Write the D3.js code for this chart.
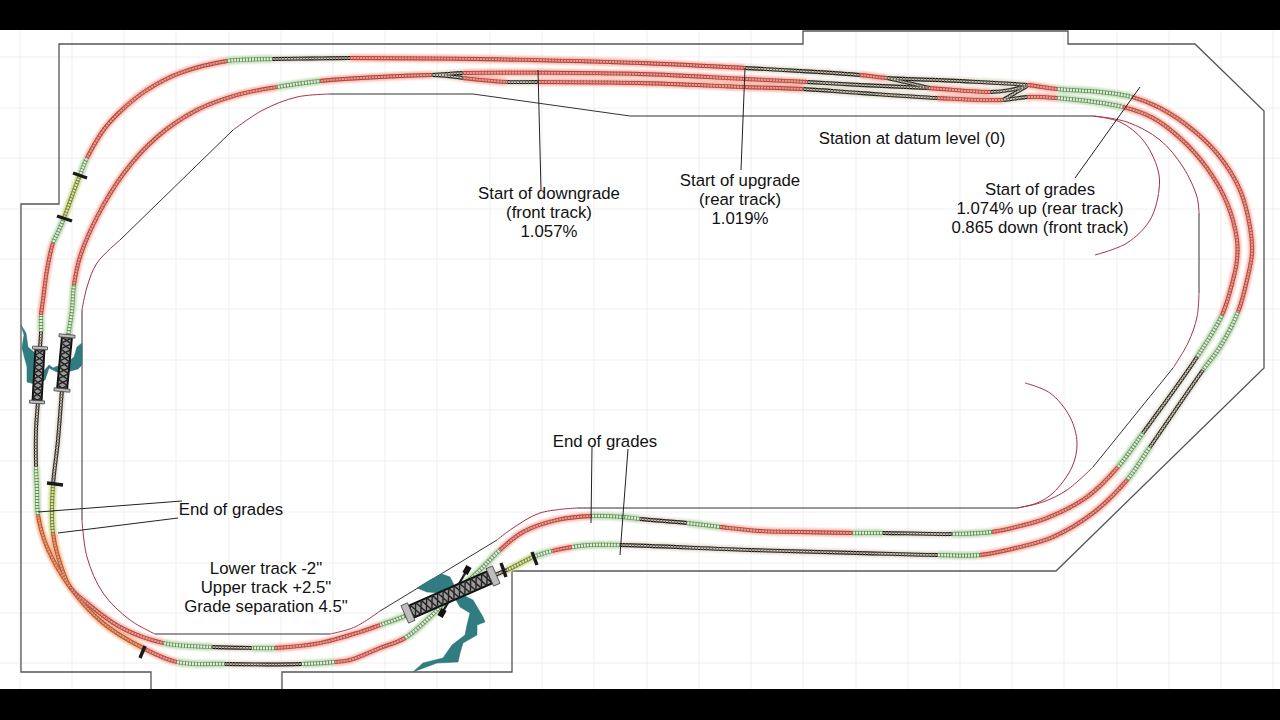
<!DOCTYPE html>
<html>
<head>
<meta charset="utf-8">
<style>
  html, body { margin: 0; padding: 0; background: #fff; }
  svg { display: block; }
  text { font-family: "Liberation Sans", Arial, sans-serif; font-size: 16.8px; fill: #111; text-anchor: middle; }
</style>
<script src="https://cdnjs.cloudflare.com/ajax/libs/d3/7.8.5/d3.min.js"></script>
</head>
<body>
<div id="plan"></div>
<script>
// All coordinates are plan units.

var gridX = [20, 72, 124, 176, 229, 281, 333, 385, 437, 490, 542, 594, 647, 699, 751, 803, 856, 908, 960, 1012, 1064, 1117, 1169, 1221, 1273];
var gridY = [57, 108, 158, 209, 259, 309, 360, 410, 461, 512, 563, 613, 663];

var benchwork = [[151, 689], [151, 672], [21, 672], [21, 204], [59, 204], [59, 44], [803, 44], [803, 31], [1068, 31], [1068, 44],
  [1195, 44], [1264, 111], [1264, 368], [1056, 571], [512, 571], [512, 672], [282, 672], [282, 689]];

// aisle edge: straight parts are black, curved parts are red
var aisleStraight = [
  [[82, 520], [82, 310]],
  [[120, 240], [233, 130]],
  [[330, 94], [473, 94], [630, 116], [1093, 116]],
  [[1199, 213], [1199, 293]],
  [[1173, 368], [1093, 467]],
  [[1017, 508], [577, 508]],
  [[497, 540], [380, 611]],
  [[330, 634], [155, 634]]
];
var aisleCurves = [
  [[82, 310], [87, 287], [97, 263], [120, 240]],
  [[233, 130], [263, 110], [297, 97], [330, 94]],
  [[1093, 116], [1127, 122], [1160, 140], [1183, 167], [1197, 197], [1199, 213]],
  [[1093, 116], [1120, 122], [1143, 140], [1158, 170], [1159, 190], [1150, 220], [1127, 243], [1095, 255]],
  [[1199, 293], [1197, 317], [1188, 343], [1173, 368]],
  [[1093, 467], [1067, 490], [1043, 502], [1017, 508]],
  [[1025, 383], [1050, 393], [1070, 417], [1077, 443], [1072, 467], [1053, 493], [1037, 503], [1017, 508]],
  [[577, 508], [540, 513], [513, 528], [497, 540]],
  [[380, 611], [355, 627], [330, 634]],
  [[155, 634], [130, 620], [103, 593], [87, 557], [82, 520]]
];

// one long run of track, split wherever the grade colour changes
var mainLine = [
  ["red", [[177, 662], [143, 648]]],
  ["orange", [[143, 648], [103, 623], [70, 587], [47, 547], [38, 515]]],
  ["green", [[38, 515], [37, 490], [36, 467]]],
  ["black", [[36, 467], [36, 430], [38, 400], [39, 370], [40, 348], [41, 332]]],
  ["green", [[41, 332], [41, 315]]],
  ["red", [[41, 315], [43, 300], [47, 270], [53, 243]]],
  ["green", [[53, 243], [59, 230], [64, 218]]],
  ["yellow", [[64, 218], [72, 196], [80, 175]]],
  ["green", [[80, 175], [87, 158]]],
  ["red", [[87, 158], [105, 128], [124, 108], [147, 90], [180, 73], [227, 61]]],
  ["green", [[227, 61], [250, 59.5], [272, 59]]],
  ["black", [[272, 59], [310, 58.5], [350, 58]]],
  ["red", [[350, 58], [477, 59], [640, 63], [745, 68]]],
  ["black", [[745, 68], [800, 71], [860, 75]]],
  ["red", [[860, 75], [887, 78]]],
  ["black", [[887, 78], [960, 81], [1027, 85]]],
  ["red", [[1027, 85], [1057, 89]]],
  ["green", [[1057, 89], [1100, 92], [1132, 97]]],
  ["red", [[1132, 97], [1160, 108], [1193, 130], [1220, 157], [1240, 190], [1250, 227], [1252, 253], [1247, 280], [1238, 312]]],
  ["green", [[1238, 312], [1220, 347], [1203, 370]]],
  ["black", [[1203, 370], [1150, 447]]],
  ["green", [[1150, 447], [1127, 480]]],
  ["red", [[1127, 480], [1093, 513], [1053, 537], [1020, 547], [980, 555]]],
  ["green", [[980, 555], [938, 555]]],
  ["black", [[938, 555], [857, 553], [750, 550], [620, 545]]],
  ["green", [[620, 545], [590, 545], [572, 547]]],
  ["red", [[572, 547], [552, 551]]],
  ["green", [[552, 551], [533, 557]]],
  ["yellow", [[533, 557], [507, 570]]],
  ["black", [[507, 570], [450, 593], [405, 616]]],
  ["green", [[405, 616], [380, 625]]],
  ["red", [[380, 625], [360, 632], [320, 643], [275, 648]]],
  ["green", [[275, 648], [252, 648]]],
  ["black", [[252, 648], [212, 647]]],
  ["green", [[212, 647], [163, 643]]],
  ["red", [[163, 643], [120, 627], [87, 603], [70, 587]]],
  ["orange", [[70, 587], [57, 553], [53, 533]]],
  ["yellow", [[53, 533], [52, 517], [53, 485]]],
  ["black", [[53, 485], [58, 440], [62, 390], [66, 350], [68, 337]]],
  ["green", [[68, 337], [72, 310], [74, 285]]],
  ["red", [[74, 285], [80, 257], [97, 217], [124, 173], [157, 137], [197, 110], [237, 95], [277, 87]]],
  ["green", [[277, 87], [320, 81]]],
  ["red", [[320, 81], [330, 80], [400, 76], [432, 75]]],
  ["black", [[432, 75], [447, 76], [463, 78]]],
  ["red", [[463, 78], [507, 82]]],
  ["black", [[507, 82], [538, 82]]],
  ["red", [[538, 82], [640, 83], [745, 87], [803, 89]]],
  ["black", [[803, 89], [860, 93], [937, 98]]],
  ["red", [[937, 98], [1003, 100]]],
  ["black", [[1003, 100], [1027, 97]]],
  ["red", [[1027, 97], [1057, 98]]],
  ["green", [[1057, 98], [1123, 107]]],
  ["red", [[1123, 107], [1153, 118], [1180, 138], [1207, 168], [1227, 203], [1237, 240], [1237, 260], [1233, 280], [1222, 315]]],
  ["green", [[1222, 315], [1197, 357]]],
  ["black", [[1197, 357], [1143, 433]]],
  ["green", [[1143, 433], [1118, 467]]],
  ["red", [[1118, 467], [1087, 497], [1047, 518], [1020, 526], [992, 532]]],
  ["green", [[992, 532], [952, 534]]],
  ["black", [[952, 534], [883, 533]]],
  ["green", [[883, 533], [852, 533]]],
  ["red", [[852, 533], [800, 532], [760, 531], [720, 527]]],
  ["green", [[720, 527], [687, 523]]],
  ["black", [[687, 523], [640, 519]]],
  ["green", [[640, 519], [623, 517], [592, 516]]],
  ["red", [[592, 516], [557, 520], [523, 532], [500, 550]]],
  ["green", [[500, 550], [480, 570], [450, 597], [430, 617], [405, 638]]],
  ["red", [[405, 638], [380, 648], [350, 660], [335, 662]]],
  ["green", [[335, 662], [302, 664]]],
  ["black", [[302, 664], [225, 664]]],
  ["green", [[225, 664], [177, 662]]]
];

// middle road through the station, and the crossovers at its right end
var stationSiding = [
  ["black", [[432, 75], [447, 74], [463, 73]]],
  ["red", [[463, 73], [640, 74], [745, 79], [807, 82]]],
  ["black", [[807, 82], [860, 85], [927, 88]]],
  ["red", [[927, 88], [990, 92]]],
  ["black", [[990, 92], [1010, 90], [1027, 86]]],
  ["black", [[887, 78], [930, 88]]],
  ["black", [[1003, 100], [1027, 86]]]
];

var bridges = [
  [[40, 348], [37, 402]],
  [[67, 336], [62, 390]],
  [[493, 576], [408, 613]]
];
var bridgeHalfWidths = [4.5, 5, 6.5];
var plateLengths = [3, 3, 7];

var sectionBars = [
  [[73, 173], [87, 178]],
  [[57, 216], [72, 221]],
  [[47, 483], [63, 485]],
  [[140, 658], [145, 646]],
  [[532, 552], [537, 565]],
  [[501, 563], [506, 577]]
];
var crossingBar = [[467, 570], [442, 613]];

var riverLeft = [[21, 325], [24, 335], [22, 348], [27, 367], [27, 382], [35, 384], [45, 380], [49, 368], [57, 372], [67, 372], [78, 369], [82, 365],
  [82, 343], [77, 347], [74, 357], [68, 362], [60, 365], [53, 368], [49, 365], [43, 372], [37, 367], [35, 353], [28, 347], [26, 333]];
var riverBottom = [[417, 588], [430, 580], [442, 574], [450, 577], [455, 587], [463, 595], [473, 600], [483, 617], [485, 622], [477, 625], [477, 635],
  [463, 643], [460, 653], [458, 662], [437, 663], [413, 672], [423, 663], [443, 658], [452, 645], [465, 635], [467, 625], [470, 613], [460, 607],
  [456, 600], [448, 595], [440, 593], [427, 592]];

var leaders = [
  [[538, 70], [541, 190]],
  [[745, 68], [741, 170]],
  [[1140, 87], [1075, 178]],
  [[38, 512], [182, 501]],
  [[58, 533], [178, 518]],
  [[592, 447], [591, 523]],
  [[628, 449], [620, 555]]
];

var notes = [
  { at: [912, 144], lines: ["Station at datum level (0)"] },
  { at: [549, 199], lines: ["Start of downgrade", "(front track)", "1.057%"] },
  { at: [740, 186], lines: ["Start of upgrade", "(rear track)", "1.019%"] },
  { at: [1040, 195], lines: ["Start of grades", "1.074% up (rear track)", "0.865 down (front track)"] },
  { at: [605, 447], lines: ["End of grades"] },
  { at: [231, 515], lines: ["End of grades"] },
  { at: [266, 574], lines: ["Lower track -2\"", "Upper track +2.5\"", "Grade separation 4.5\""] }
];

(function () {
  var width = 1280, height = 720;

  var x = d3.scaleLinear().domain([0, 1280]).range([0, width]),
      y = d3.scaleLinear().domain([0, 720]).range([0, height]);

  var trackStyle = {
    red:    { halo: "#f9a89b", rail: "#a63c34", bed: "#ea9a8e", tie: "#bb5d54", bedWidth: 2.1 },
    orange: { halo: "#fbaa70", rail: "#a5452c", bed: "#ec9c78", tie: "#bb6a4a", bedWidth: 2.1 },
    green:  { halo: "#b2d8a3", rail: "#7b9f74", bed: "#e3f0dd", tie: "#668a60", bedWidth: 2.4 },
    black:  { halo: "#e2dccd", rail: "#111111", bed: "#cfc8b8", tie: "#6d675c", bedWidth: 1.7 },
    yellow: { halo: "#cbd683", rail: "#7d8840", bed: "#dfe6ad", tie: "#75803a", bedWidth: 2.1 }
  };

  var curved = d3.line().x(function (d) { return x(d[0]); }).y(function (d) { return y(d[1]); })
        .curve(d3.curveCatmullRom.alpha(0.5)),
      runCurve = d3.line().x(function (d) { return x(d[0]); }).y(function (d) { return y(d[1]); })
        .curve(d3.curveCatmullRomOpen.alpha(0.5)),
      straight = d3.line().x(function (d) { return x(d[0]); }).y(function (d) { return y(d[1]); });

  var svg = d3.select("#plan").append("svg")
        .attr("width", width).attr("height", height);

  var defs = svg.append("defs");
  defs.append("filter").attr("id", "soft").attr("x", "-5%").attr("y", "-5%").attr("width", "110%").attr("height", "110%")
    .append("feGaussianBlur").attr("stdDeviation", 1.1);

  svg.append("rect").attr("width", width).attr("height", height).attr("fill", "#fff");

  // ------------------------------------------------------------
  // grid
  // ------------------------------------------------------------
  var grid = svg.append("g").attr("stroke", "#efefef").attr("stroke-width", 1);
  grid.selectAll("line.v").data(gridX).enter().append("line").attr("class", "v")
    .attr("x1", function (d) { return x(d); }).attr("x2", function (d) { return x(d); })
    .attr("y1", y(31)).attr("y2", y(689));
  grid.selectAll("line.h").data(gridY).enter().append("line").attr("class", "h")
    .attr("x1", x(0)).attr("x2", x(1280))
    .attr("y1", function (d) { return y(d); }).attr("y2", function (d) { return y(d); });

  // ------------------------------------------------------------
  // benchwork and aisle edge
  // ------------------------------------------------------------
  svg.append("path").attr("d", straight(benchwork))
    .attr("fill", "none").attr("stroke", "#555").attr("stroke-width", 1.3);

  svg.selectAll("path.aisle").data(aisleStraight).enter().append("path").attr("class", "aisle")
    .attr("d", straight).attr("fill", "none").attr("stroke", "#333").attr("stroke-width", 1);
  svg.selectAll("path.aisleCurve").data(aisleCurves).enter().append("path").attr("class", "aisleCurve")
    .attr("d", curved).attr("fill", "none").attr("stroke", "#a5304a").attr("stroke-width", 1);

  // ------------------------------------------------------------
  // rivers
  // ------------------------------------------------------------
  svg.selectAll("path.river").data([riverLeft, riverBottom]).enter().append("path").attr("class", "river")
    .attr("d", function (d) { return straight(d) + "Z"; })
    .attr("fill", "#2f7d80").attr("stroke", "#2a6d70").attr("stroke-width", 0.5);

  // ------------------------------------------------------------
  // track, built up in layers: halo, rails, bed, ties
  // ------------------------------------------------------------

  function sameAt(a, b) {
    return a[0] === b[0] && a[1] === b[1];
  }

  // borrow a point from each neighbouring run so the curve has no kink at the colour change
  function runPath(list, i) {
    var pts = list[i][1],
        prev = list[(i - 1 + list.length) % list.length][1],
        next = list[(i + 1) % list.length][1],
        first = pts[0],
        last = pts[pts.length - 1],
        before = sameAt(prev[prev.length - 1], first) ? prev[prev.length - 2] : first,
        after = sameAt(next[0], last) ? next[1] : last;
    return runCurve([before].concat(pts, [after]));
  }

  var runs = mainLine.map(function (d, i) { return { kind: d[0], d: runPath(mainLine, i) }; })
    .concat(stationSiding.map(function (d, i) { return { kind: d[0], d: runPath(stationSiding, i) }; }));

  function layer(cls, key, widthPx, dash, parent) {
    (parent || svg).append("g").selectAll("path." + cls).data(runs).enter().append("path").attr("class", cls)
      .attr("d", function (d) { return d.d; })
      .attr("fill", "none")
      .attr("stroke", function (d) { return trackStyle[d.kind][key]; })
      .attr("stroke-width", typeof widthPx === "function" ? widthPx : function () { return widthPx; })
      .attr("stroke-dasharray", dash);
  }

  var haloGroup = svg.append("g").attr("filter", "url(#soft)").attr("opacity", 0.85);
  layer("halo", "halo", 7.5, null, haloGroup);
  layer("rail", "rail", 3.8, null);
  layer("bed", "bed", function (d) { return trackStyle[d.kind].bedWidth; }, null);
  layer("tie", "tie", 4.2, "1 2");

  // crossing bar sits under the big girder bridge
  svg.append("path").attr("d", straight(crossingBar))
    .attr("stroke", "#222").attr("stroke-width", 2.4).attr("fill", "none");
  svg.selectAll("rect.crossEnd").data(crossingBar).enter().append("rect").attr("class", "crossEnd")
    .attr("x", -4).attr("y", -3).attr("width", 8).attr("height", 6).attr("fill", "#111")
    .attr("transform", function (d) { return "translate(" + x(d[0]) + "," + y(d[1]) + ") rotate(-60)"; });

  // ------------------------------------------------------------
  // bridges
  // ------------------------------------------------------------
  bridges.forEach(function (b, n) {
    var x0 = x(b[0][0]), y0 = y(b[0][1]), x1 = x(b[1][0]), y1 = y(b[1][1]),
        len = Math.sqrt((x1 - x0) * (x1 - x0) + (y1 - y0) * (y1 - y0)),
        angle = Math.atan2(y1 - y0, x1 - x0) * 180 / Math.PI,
        half = bridgeHalfWidths[n],
        plate = plateLengths[n],
        g = svg.append("g").attr("transform", "translate(" + x0 + "," + y0 + ") rotate(" + angle + ")");

    g.append("rect").attr("x", plate / 2).attr("y", -half).attr("width", len - plate).attr("height", half * 2)
      .attr("fill", "#9a9a9a").attr("stroke", "#111").attr("stroke-width", 2);

    var step = 6, zig = d3.range(plate / 2, len - plate / 2 - 1, step);
    g.selectAll("path.bay").data(zig).enter().append("path")
      .attr("d", function (d) {
        return "M" + d + "," + (-half) + "L" + (d + step) + "," + half + "M" + d + "," + half + "L" + (d + step) + "," + (-half);
      })
      .attr("stroke", "#222").attr("stroke-width", 1.4).attr("fill", "none");

    g.selectAll("rect.plate").data([0, len]).enter().append("rect").attr("class", "plate")
      .attr("x", function (d) { return d - plate / 2; }).attr("y", -half - 3).attr("width", plate).attr("height", half * 2 + 6)
      .attr("fill", "#bdbdbd").attr("stroke", "#444").attr("stroke-width", 0.8);
  });

  // section bars across the track
  svg.selectAll("line.bar").data(sectionBars).enter().append("line").attr("class", "bar")
    .attr("x1", function (d) { return x(d[0][0]); }).attr("y1", function (d) { return y(d[0][1]); })
    .attr("x2", function (d) { return x(d[1][0]); }).attr("y2", function (d) { return y(d[1][1]); })
    .attr("stroke", "#1a1a1a").attr("stroke-width", 3.4);

  // ------------------------------------------------------------
  // leaders and notes
  // ------------------------------------------------------------
  svg.selectAll("path.leader").data(leaders).enter().append("path").attr("class", "leader")
    .attr("d", straight).attr("stroke", "#222").attr("stroke-width", 1).attr("fill", "none");

  var label = svg.selectAll("text.note").data(notes).enter().append("text").attr("class", "note")
    .attr("x", function (d) { return x(d.at[0]); })
    .attr("y", function (d) { return y(d.at[1]); });
  label.selectAll("tspan").data(function (d) {
      return d.lines.map(function (t, i) { return { text: t, i: i, cx: d.at[0] }; });
    }).enter().append("tspan")
    .attr("x", function (d) { return x(d.cx); })
    .attr("dy", function (d) { return d.i ? 19 : 0; })
    .text(function (d) { return d.text; });

  // video letterbox
  svg.selectAll("rect.band").data([[0, 30], [689, 31]]).enter().append("rect").attr("class", "band")
    .attr("x", 0).attr("y", function (d) { return y(d[0]); })
    .attr("width", width).attr("height", function (d) { return y(d[1]) - y(0); })
    .attr("fill", "#000");
})();
</script>
</body>
</html>
